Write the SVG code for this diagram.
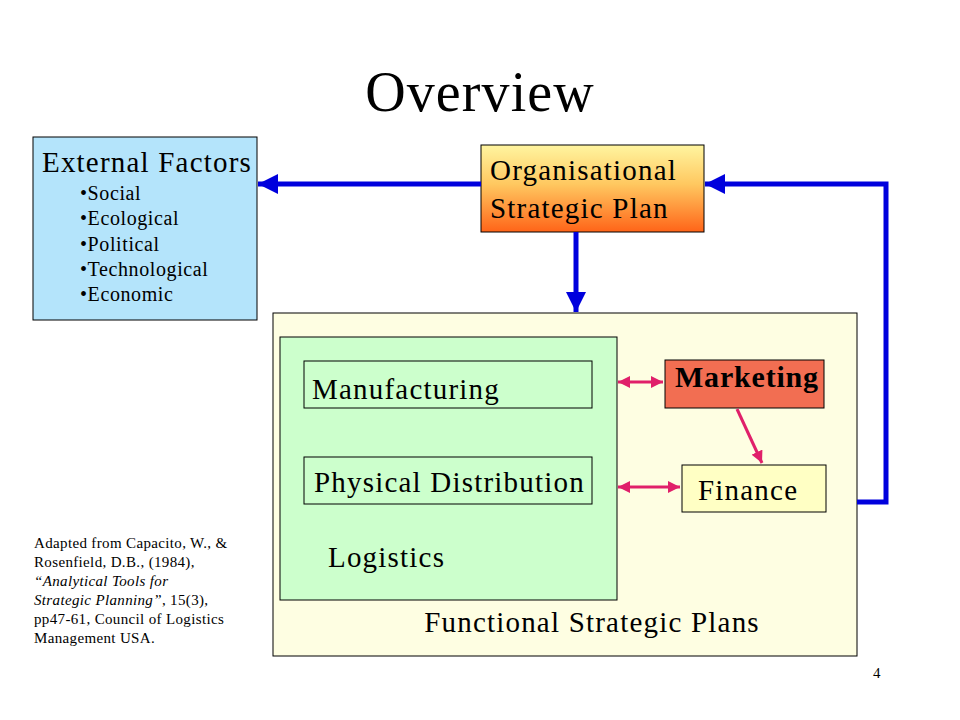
<svg xmlns="http://www.w3.org/2000/svg" width="960" height="720" viewBox="0 0 960 720">
<defs>
<linearGradient id="og" x1="0" y1="0" x2="0" y2="1">
<stop offset="0" stop-color="#fff5a0"/>
<stop offset="0.45" stop-color="#ffc860"/>
<stop offset="1" stop-color="#ff6418"/>
</linearGradient>
<marker id="ab" viewBox="0 0 10 10" refX="10" refY="5" markerWidth="4" markerHeight="4" orient="auto-start-reverse" markerUnits="strokeWidth">
<path d="M0,0 L10,5 L0,10 Z" fill="#0000dd"/>
</marker>
<marker id="ap" viewBox="0 0 10 10" refX="10" refY="5" markerWidth="4" markerHeight="4" orient="auto-start-reverse" markerUnits="strokeWidth">
<path d="M0,0 L10,5 L0,10 Z" fill="#e0206a"/>
</marker>
<style>
text{font-family:"Liberation Serif","Times New Roman",serif;fill:#000}
.box{stroke:#000;stroke-width:1}
.big{font-size:29px;letter-spacing:1.2px}
.bul{font-size:20px;letter-spacing:0.6px}
.cit{font-size:15px;letter-spacing:0.35px}
.blue{stroke:#0000dd;stroke-width:5;fill:none}
.pink{stroke:#e0206a;stroke-width:3;fill:none}
</style>
</defs>
<rect width="960" height="720" fill="#fff"/>
<text x="480" y="111" text-anchor="middle" font-size="56" letter-spacing="1.1">Overview</text>

<g id="external">
<rect class="box" x="33" y="137" width="224" height="183" fill="#b4e4fb"/>
<text class="big" x="42" y="172">External Factors</text>
<text class="bul" x="80" y="200">•Social</text>
<text class="bul" x="80" y="225">•Ecological</text>
<text class="bul" x="80" y="251">•Political</text>
<text class="bul" x="80" y="276">•Technological</text>
<text class="bul" x="80" y="301">•Economic</text>
</g>

<g id="org">
<rect class="box" x="481" y="145" width="223" height="87" fill="url(#og)"/>
<text class="big" x="490" y="180">Organisational</text>
<text class="big" x="490" y="218">Strategic Plan</text>
</g>

<g id="functional">
<rect class="box" x="273" y="313" width="584" height="343" fill="#fefee2"/>
<text class="big" x="592" y="632" text-anchor="middle">Functional Strategic Plans</text>
</g>

<g id="logistics">
<rect class="box" x="280" y="337" width="337" height="263" fill="#ccffcc"/>
<text class="big" x="328" y="567">Logistics</text>
</g>

<g id="manufacturing">
<rect class="box" x="304" y="361" width="288" height="47" fill="#ccffcc"/>
<text class="big" x="312" y="399">Manufacturing</text>
</g>

<g id="physical">
<rect class="box" x="304" y="457" width="288" height="47" fill="#ccffcc"/>
<text class="big" x="314" y="492">Physical Distribution</text>
</g>

<g id="marketing">
<rect class="box" x="665" y="360" width="159" height="48" fill="#f26e52"/>
<text x="675" y="387" font-size="30" font-weight="bold" letter-spacing="0.8">Marketing</text>
</g>

<g id="finance">
<rect class="box" x="682" y="465" width="144" height="47" fill="#ffffc4"/>
<text class="big" x="698" y="500">Finance</text>
</g>

<g id="connectors">
<line class="blue" x1="481" y1="184" x2="258" y2="184" marker-end="url(#ab)"/>
<line class="blue" x1="576" y1="232" x2="576" y2="312" marker-end="url(#ab)"/>
<polyline class="blue" points="857,502 886,502 886,184 705,184" marker-end="url(#ab)"/>
<line class="pink" x1="618" y1="382" x2="663" y2="382" marker-start="url(#ap)" marker-end="url(#ap)"/>
<line class="pink" x1="618" y1="487" x2="680" y2="487" marker-start="url(#ap)" marker-end="url(#ap)"/>
<line class="pink" x1="737" y1="409" x2="762" y2="463" marker-end="url(#ap)"/>
</g>

<g id="citation">
<text class="cit" x="34" y="548">Adapted from Capacito, W., &amp;</text>
<text class="cit" x="34" y="567">Rosenfield, D.B., (1984),</text>
<text class="cit" x="34" y="586" font-style="italic">“Analytical Tools for</text>
<text class="cit" x="34" y="605"><tspan font-style="italic">Strategic Planning”</tspan>, 15(3),</text>
<text class="cit" x="34" y="624">pp47-61, Council of Logistics</text>
<text class="cit" x="34" y="643">Management USA.</text>
</g>
<text x="873" y="678" font-size="15">4</text>
</svg>
